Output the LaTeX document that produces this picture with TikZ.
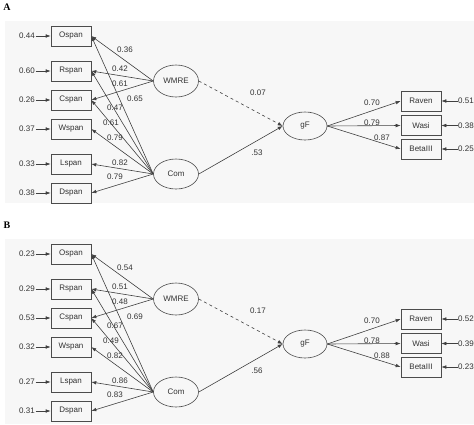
\documentclass[tikz,border=0pt]{standalone}
\usepackage{fontspec}
\setmainfont{Liberation Sans}
\newfontfamily\lblfont{Liberation Serif}
\usetikzlibrary{shapes.geometric,arrows.meta}
\newcommand\semgraph{%
  \node[obs] (O) at (71,36) {Ospan};
  \node[obs] (R) at (71,71) {Rspan};
  \node[obs] (C) at (71,100) {Cspan};
  \node[obs] (W) at (71,129) {Wspan};
  \node[obs] (L) at (71,164) {Lspan};
  \node[obs] (D) at (71,193) {Dspan};
  \node[lat, minimum width=45pt, minimum height=32pt] (WM) at (176,81) {WMRE};
  \node[lat, minimum width=45pt, minimum height=30pt] (Co) at (176,174) {Com};
  \node[lat, minimum width=44pt, minimum height=28pt] (gF) at (305,126) {gF};
  \node[obs] (Ra) at (421,101) {Raven};
  \node[obs] (Wa) at (421,125.5) {Wasi};
  \node[obs] (Be) at (421,149) {BetaIII};
  \foreach \t in {O,R,C} {\draw[semarrow] (WM.west) -- (\t.east);}
  \foreach \t in {O,R,C,W,L,D} {\draw[semarrow] (Co.west) -- (\t.east);}
  \draw[semarrow, dashed] (WM.east) -- (gF.west);
  \draw[semarrow] (Co.east) -- (gF.west);
  \foreach \t in {Ra,Wa,Be} {\draw[semarrow] (gF.east) -- (\t.west);}
}
\newcommand\semloads[9]{%
  \node[coef] (k1) at (125,50) {#1};
  \node[coef] (k2) at (120,69) {#2};
  \node[coef] (k3) at (120,84) {#3};
  \node[coef] (k4) at (135,99) {#4};
  \node[coef] (k5) at (115,108) {#5};
  \node[coef] (k6) at (111,123) {#6};
  \node[coef] (k7) at (115,137.5) {#7};
  \node[coef] (k8) at (120,163) {#8};
  \node[coef] (k9) at (115,177) {#9};
}
\newcommand\sempaths[5]{%
  \node[coef] (p1) at (258,93) {#1};
  \node[coef] (p2) at (257,153) {#2};
  \node[coef] (p3) at (372,103) {#3};
  \node[coef] (p4) at (372,123) {#4};
  \node[coef] (p5) at (382,138) {#5};
}
\newcommand\semerrs[9]{%
  \node[coef, anchor=east] (e1) at (35.5,36) {#1};
  \node[coef, anchor=east] (e2) at (35.5,71) {#2};
  \node[coef, anchor=east] (e3) at (35.5,100) {#3};
  \node[coef, anchor=east] (e4) at (35.5,129) {#4};
  \node[coef, anchor=east] (e5) at (35.5,164) {#5};
  \node[coef, anchor=east] (e6) at (35.5,193) {#6};
  \node[coef, anchor=west] (e7) at (457.5,101) {#7};
  \node[coef, anchor=west] (e8) at (457.5,125.5) {#8};
  \node[coef, anchor=west] (e9) at (457.5,149) {#9};
  \draw[semarrow] (e1.east) -- (O.west);
  \draw[semarrow] (e2.east) -- (R.west);
  \draw[semarrow] (e3.east) -- (C.west);
  \draw[semarrow] (e4.east) -- (W.west);
  \draw[semarrow] (e5.east) -- (L.west);
  \draw[semarrow] (e6.east) -- (D.west);
  \draw[semarrow] (e7.west) -- (Ra.east);
  \draw[semarrow] (e8.west) -- (Wa.east);
  \draw[semarrow] (e9.west) -- (Be.east);
}
\begin{document}
\begin{tikzpicture}[x=1pt,y=-1pt,
  every node/.style={font=\fontsize{8}{9}\selectfont, text=black!80},
  obs/.style={draw=black!70, line width=0.6pt, minimum width=40pt, minimum height=20pt, inner sep=0pt},
  lat/.style={draw=black!70, line width=0.6pt, ellipse, inner sep=0pt},
  semarrow/.style={draw=black!75, line width=0.6pt, -{Latex[length=5pt,width=3.6pt]}},
  coef/.style={inner sep=0.5pt},
  panelbg/.style={fill=black!3, draw=none},
  plabel/.style={font=\lblfont\bfseries\fontsize{10}{12}\selectfont, text=black}
]
\useasboundingbox (0,0) rectangle (474,424);
\begin{scope}[name prefix=a-]
  \fill[panelbg] (5,21) rectangle (474,203);
  \node[plabel] (lbl) at (7,7) {A};
  \semgraph
  \semloads{0.36}{0.42}{0.61}{0.65}{0.47}{0.61}{0.79}{0.82}{0.79}
  \sempaths{0.07}{.53}{0.70}{0.79}{0.87}
  \semerrs{0.44}{0.60}{0.26}{0.37}{0.33}{0.38}{0.51}{0.38}{0.25}
\end{scope}
\begin{scope}[yshift=-218pt, name prefix=b-]
  \fill[panelbg] (5,21) rectangle (474,206);
  \node[plabel] (lbl) at (7,7) {B};
  \semgraph
  \semloads{0.54}{0.51}{0.48}{0.69}{0.67}{0.49}{0.82}{0.86}{0.83}
  \sempaths{0.17}{.56}{0.70}{0.78}{0.88}
  \semerrs{0.23}{0.29}{0.53}{0.32}{0.27}{0.31}{0.52}{0.39}{0.23}
\end{scope}
\end{tikzpicture}
\end{document}
